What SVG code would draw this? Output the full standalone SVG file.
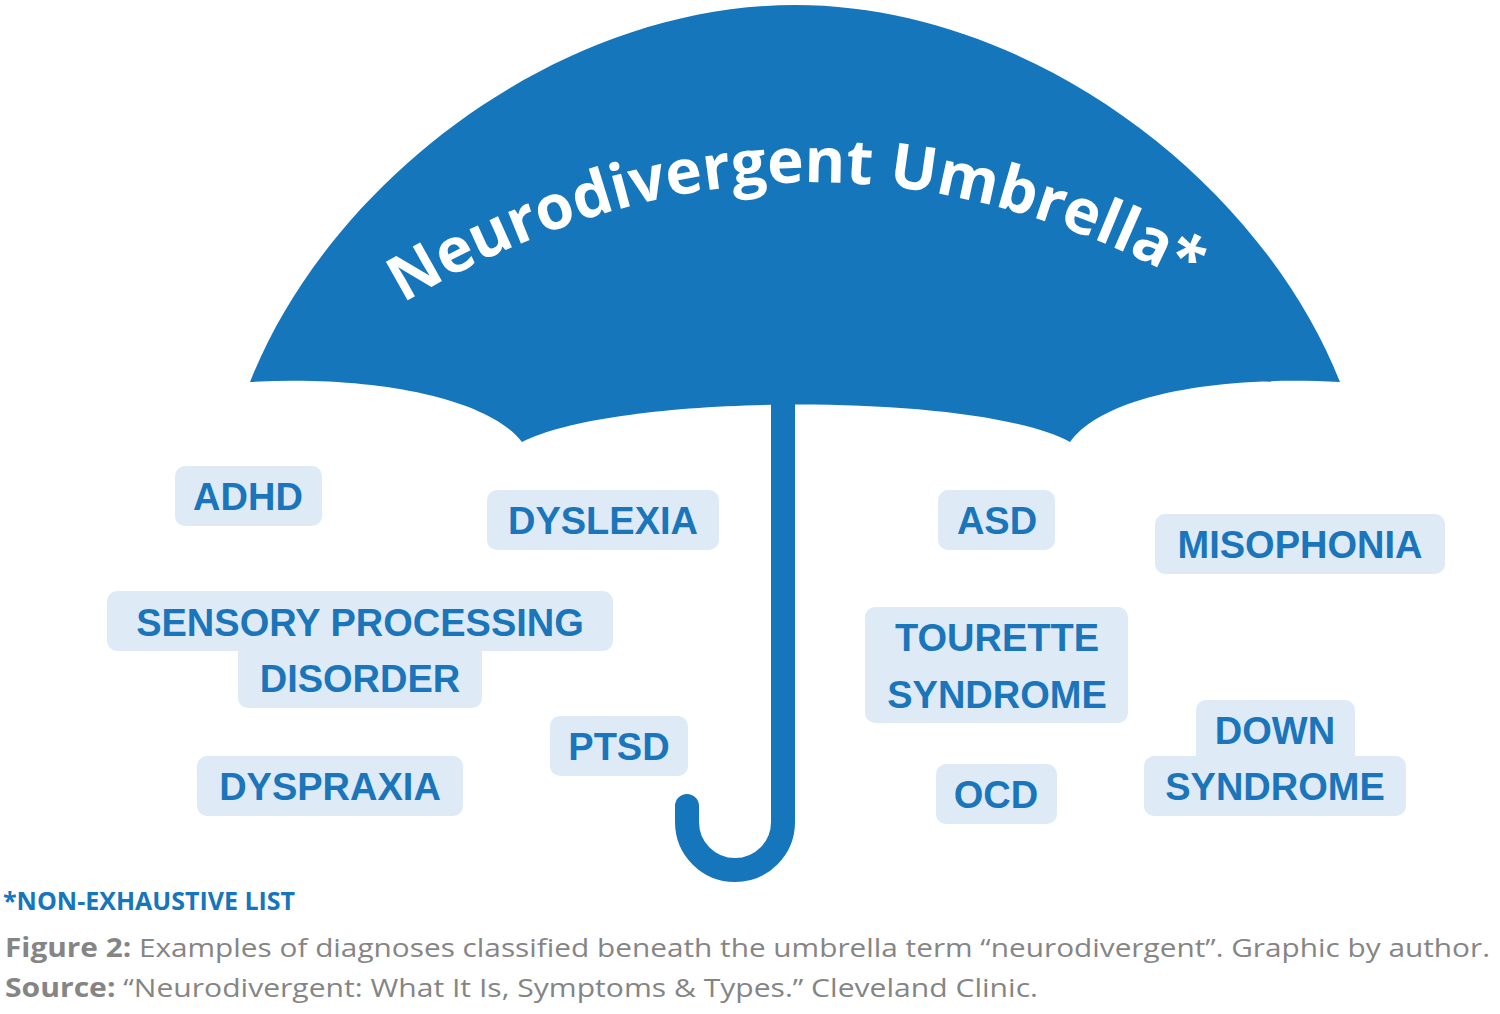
<svg xmlns="http://www.w3.org/2000/svg" width="1500" height="1014" viewBox="0 0 1500 1014">
<style>
.box{fill:#deebf6}
.lb{font-family:"Liberation Sans",Arial,sans-serif;font-weight:bold;font-size:38px;fill:#1a75bb;text-anchor:middle}
.cap{font-family:"Open Sans",sans-serif;font-size:26px;fill:#858585}
</style>
<defs><path id="arc" d="M360,330 Q795,45 1235,310"/></defs>
<rect width="1500" height="1014" fill="#fff"/>
<g id="umbrella">
<path d="M250,382 C330,180 560,5 795,5 C1030,5 1260,180 1340,382 C1200,375 1100,400 1070,442 C980,392 620,392 522,442 C490,400 380,375 250,382 Z" fill="#1576bc"/>
<path d="M783,395 V822 A48,48 0 0 1 687,822 V806" fill="none" stroke="#1576bc" stroke-width="24" stroke-linecap="round"/>
<text font-family="Open Sans,sans-serif" font-weight="bold" font-size="62" fill="#fff" text-anchor="middle"><textPath href="#arc" startOffset="50%">Neurodivergent Umbrella*</textPath></text>
</g>
<g id="adhd"><rect class="box" x="175" y="466" width="147" height="60" rx="10"/><text class="lb" x="248" y="510">ADHD</text></g>
<g id="dyslexia"><rect class="box" x="487" y="490" width="232" height="60" rx="10"/><text class="lb" x="603" y="534">DYSLEXIA</text></g>
<g id="asd"><rect class="box" x="938" y="490" width="117" height="60" rx="10"/><text class="lb" x="997" y="534">ASD</text></g>
<g id="misophonia"><rect class="box" x="1155" y="514" width="290" height="60" rx="10"/><text class="lb" x="1300" y="558">MISOPHONIA</text></g>
<g id="spd"><rect class="box" x="107" y="591" width="506" height="60" rx="10"/><rect class="box" x="238" y="640" width="244" height="68" rx="10"/><text class="lb" x="360" y="636">SENSORY PROCESSING</text><text class="lb" x="360" y="692">DISORDER</text></g>
<g id="tourette"><rect class="box" x="865" y="607" width="263" height="116" rx="10"/><text class="lb" x="997" y="651">TOURETTE</text><text class="lb" x="997" y="708">SYNDROME</text></g>
<g id="ptsd"><rect class="box" x="550" y="716" width="138" height="60" rx="10"/><text class="lb" x="619" y="760">PTSD</text></g>
<g id="dyspraxia"><rect class="box" x="197" y="756" width="266" height="60" rx="10"/><text class="lb" x="330" y="800">DYSPRAXIA</text></g>
<g id="ocd"><rect class="box" x="936" y="764" width="121" height="60" rx="10"/><text class="lb" x="996" y="808">OCD</text></g>
<g id="down"><rect class="box" x="1196" y="700" width="159" height="66" rx="10"/><rect class="box" x="1144" y="756" width="262" height="60" rx="10"/><text class="lb" x="1275" y="744">DOWN</text><text class="lb" x="1275" y="800">SYNDROME</text></g>
<g id="connectors"></g>
<text x="3" y="910" font-family="Open Sans,sans-serif" font-weight="bold" font-size="25" fill="#1576bc">*NON-EXHAUSTIVE LIST</text>
<text class="cap" x="5" y="957" textLength="1485" lengthAdjust="spacingAndGlyphs"><tspan font-weight="bold">Figure 2:</tspan> Examples of diagnoses classified beneath the umbrella term “neurodivergent”. Graphic by author.</text>
<text class="cap" x="5" y="997" textLength="1033" lengthAdjust="spacingAndGlyphs"><tspan font-weight="bold">Source:</tspan> “Neurodivergent: What It Is, Symptoms &amp; Types.” Cleveland Clinic.</text>
</svg>
